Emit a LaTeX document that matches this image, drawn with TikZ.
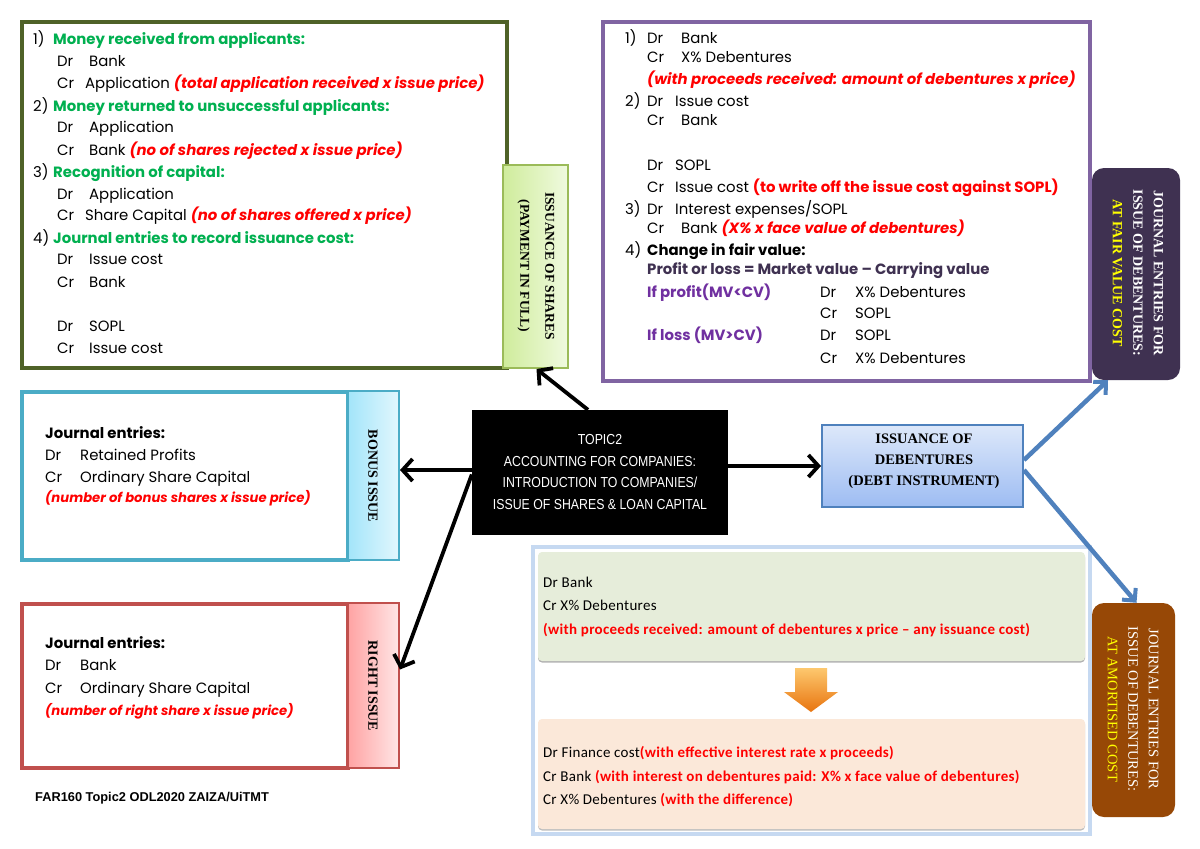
\documentclass[tikz,border=0pt]{standalone}
\usepackage{fontspec}
\usetikzlibrary{arrows.meta,fit,shadows,calc}
\setmainfont{Poppins}
\newfontfamily\gothic{Poppins}
\newfontfamily\calib[LetterSpace=2]{Carlito}
\newfontfamily\serifb{Liberation Serif}
\newfontfamily\condf[FakeStretch=0.85]{Liberation Sans}
\newfontfamily\arialf{Liberation Sans}
\definecolor{hgreen}{HTML}{00B050}
\definecolor{pred}{HTML}{FF0000}
\definecolor{cOlive}{HTML}{4F6228}
\definecolor{cTabG}{HTML}{9BBB59}
\definecolor{cTabGa}{HTML}{CFEC9C}
\definecolor{cTabGb}{HTML}{F0FADF}
\definecolor{cPurp}{HTML}{8064A2}
\definecolor{cDarkP}{HTML}{3F3151}
\definecolor{cViolet}{HTML}{7030A0}
\definecolor{cTeal}{HTML}{4BACC6}
\definecolor{cTealA}{HTML}{A3E5FA}
\definecolor{cTealB}{HTML}{E2F7FD}
\definecolor{cRed}{HTML}{C0504D}
\definecolor{cPinkA}{HTML}{FFA3A3}
\definecolor{cPinkB}{HTML}{FFE6E6}
\definecolor{cBlue}{HTML}{4F81BD}
\definecolor{cBlueA}{HTML}{DDE8FA}
\definecolor{cBlueB}{HTML}{9DBCF2}
\definecolor{cCont}{HTML}{C6D9F1}
\definecolor{cGreenIn}{HTML}{E6EDDA}
\definecolor{cPeach}{HTML}{FBE8D9}
\definecolor{cBrown}{HTML}{974806}
\definecolor{cYellow}{HTML}{FFFF00}
\definecolor{cOrA}{HTML}{FDC86E}
\definecolor{cOrB}{HTML}{E8740F}
\newcounter{tn}
\newcommand\tx[4][]{\stepcounter{tn}\node[anchor=base west,inner sep=0pt,#1] (tx\arabic{tn}) at (#2,#3) {#4};}
\newcommand\rit[1]{{\color{pred}\bfseries\itshape #1}}
\newcommand\rbf[1]{{\color{pred}\bfseries #1}}
\tikzset{
  framebox/.style={inner sep=0pt},
  blackarrow/.style={draw=black, line width=3.8pt, -{Straight Barb[length=10pt,width=22pt,line width=3.8pt]}},
  bluearrow/.style={draw=cBlue, line width=4.5pt, -{Straight Barb[length=9pt,width=18pt,line width=4pt]}},
  tablabel/.style={rotate=-90, align=center, inner sep=0pt, font=\serifb\bfseries\fontsize{13.5}{25}\selectfont},
  calibtext/.style={font=\calib\fontsize{15}{17}\selectfont},
}
\begin{document}
\begin{tikzpicture}[x=1pt,y=-1pt,font=\gothic\fontsize{14.9}{17}\selectfont]
\useasboundingbox (0,0) rectangle (1200,849);
\fill[white] (0,0) rectangle (1200,849);

% ---------- share issue box ----------
\node[framebox, draw=cOlive, line width=4pt, fit={(22,22)(507,368)}] (shbox) {};
\node[framebox, draw=cTabG, line width=2pt, left color=cTabGa, right color=cTabGb, fit={(503,165)(568,368)}] (tabG) {};
\node[tablabel] (tabGt) at (536,266) {ISSUANCE OF SHARES\\(PAYMENT IN FULL)};

\tx{33}{44}{1)}\tx{53}{44}{\color{hgreen}\bfseries Money received from applicants:}
\tx{57}{66}{Dr}\tx{89}{66}{Bank}
\tx{57}{88}{Cr}\tx{85}{88}{Application \rit{(total application received x issue price)}}
\tx{33}{111}{2)}\tx{53}{111}{\color{hgreen}\bfseries Money returned to unsuccessful applicants:}
\tx{57}{132}{Dr}\tx{89}{132}{Application}
\tx{57}{155}{Cr}\tx{89}{155}{Bank \rit{(no of shares rejected x issue price)}}
\tx{33}{177}{3)}\tx{53}{177}{\color{hgreen}\bfseries Recognition of capital:}
\tx{57}{199}{Dr}\tx{89}{199}{Application}
\tx{57}{220}{Cr}\tx{85}{220}{Share Capital \rit{(no of shares offered x price)}}
\tx{33}{243}{4)}\tx{53}{243}{\color{hgreen}\bfseries Journal entries to record issuance cost:}
\tx{57}{264}{Dr}\tx{89}{264}{Issue cost}
\tx{57}{287}{Cr}\tx{89}{287}{Bank}
\tx{57}{331}{Dr}\tx{89}{331}{SOPL}
\tx{57}{353}{Cr}\tx{89}{353}{Issue cost}

% ---------- debentures fair value box ----------
\node[framebox, draw=cPurp, line width=3.5pt, fit={(603,22)(1090,381)}] (fvbox) {};
\node[framebox, fill=cDarkP, rounded corners=12pt, fit={(1092,168)(1180,380)}] (tabFV) {};
\node[tablabel, font=\serifb\bfseries\fontsize{14}{20.5}\selectfont, text=white] (tabFVt) at (1138,273) {JOURNAL ENTRIES FOR\\ISSUE OF DEBENTURES:\\\textcolor{cYellow}{AT FAIR VALUE COST}};

\tx{625}{43}{1)}\tx{647}{43}{Dr}\tx{681}{43}{Bank}
\tx{647}{62}{Cr}\tx{681}{62}{X\% Debentures}
\tx{647}{84}{\rit{(with proceeds received: amount of debentures x price)}}
\tx{625}{106}{2)}\tx{647}{106}{Dr}\tx{675}{106}{Issue cost}
\tx{647}{125}{Cr}\tx{681}{125}{Bank}
\tx{647}{170}{Dr}\tx{675}{170}{SOPL}
\tx{647}{192}{Cr}\tx{675}{192}{Issue cost \rbf{(to write off the issue cost against SOPL)}}
\tx{625}{214}{3)}\tx{647}{214}{Dr}\tx{675}{214}{Interest expenses/SOPL}
\tx{647}{233}{Cr}\tx{681}{233}{Bank \rit{(X\% x face value of debentures)}}
\tx{625}{255}{4)}\tx{647}{255}{\bfseries Change in fair value:}
\tx{647}{274}{\color{cDarkP}\bfseries Profit or loss = Market value – Carrying value}
\tx{647}{297}{\color{cViolet}\bfseries If profit(MV<CV)}\tx{820}{297}{Dr}\tx{855}{297}{X\% Debentures}
\tx{820}{318}{Cr}\tx{855}{318}{SOPL}
\tx{647}{340}{\color{cViolet}\bfseries If loss (MV>CV)}\tx{820}{340}{Dr}\tx{855}{340}{SOPL}
\tx{820}{363}{Cr}\tx{855}{363}{X\% Debentures}

% ---------- bonus issue ----------
\node[framebox, draw=cTeal, line width=3.5pt, fit={(22,392)(348,560)}] (bonbox) {};
\node[framebox, draw=cTeal, line width=2pt, left color=cTealA, right color=cTealB, fit={(348,391)(399,560)}] (tabB) {};
\node[tablabel, font=\serifb\bfseries\fontsize{14}{25}\selectfont] (tabBt) at (373,476) {BONUS ISSUE};
\tx{45}{438}{\bfseries Journal entries:}
\tx{45}{460}{Dr}\tx{80}{460}{Retained Profits}
\tx{45}{482}{Cr}\tx{80}{482}{Ordinary Share Capital}
\tx{45}{502}{\rit{\fontsize{13.2}{15}\selectfont(number of bonus shares x issue price)}}

% ---------- right issue ----------
\node[framebox, draw=cRed, line width=3.5pt, fit={(22,604)(348,768)}] (rtbox) {};
\node[framebox, draw=cRed, line width=2pt, left color=cPinkA, right color=cPinkB, fit={(348,603)(399,768)}] (tabR) {};
\node[tablabel, font=\serifb\bfseries\fontsize{14}{25}\selectfont] (tabRt) at (373,686) {RIGHT ISSUE};
\tx{45}{648}{\bfseries Journal entries:}
\tx{45}{670}{Dr}\tx{80}{670}{Bank}
\tx{45}{693}{Cr}\tx{80}{693}{Ordinary Share Capital}
\tx{45}{715}{\rit{\fontsize{13.2}{15}\selectfont(number of right share x issue price)}}

\tx[font=\arialf\bfseries\fontsize{12.8}{15}\selectfont]{35}{801}{FAR160 Topic2 ODL2020 ZAIZA/UiTMT}

% ---------- central topic ----------
\node[framebox, fill=black, fit={(472,410)(728,535)}] (topic) {};
\node[align=center, text=white, inner sep=0pt, font=\condf\fontsize{14.5}{21.5}\selectfont] (topict) at (600,472) {TOPIC2\\ACCOUNTING FOR COMPANIES:\\INTRODUCTION TO COMPANIES/\\ISSUE OF SHARES \& LOAN CAPITAL};

% ---------- debentures ----------
\node[framebox, draw=cBlue, line width=2pt, top color=cBlueA, bottom color=cBlueB, fit={(822,425)(1023,507)}] (deb) {};
\node[align=center, inner sep=0pt, font=\serifb\bfseries\fontsize{14.5}{21}\selectfont] (debt) at (924,461) {ISSUANCE OF\\DEBENTURES\\(DEBT INSTRUMENT)};

% ---------- amortised cost ----------
\node[framebox, draw=cCont, line width=3.5pt, fit={(533,547)(1090,834)}] (cont) {};
\node[framebox, fill=cGreenIn, rounded corners=4pt, drop shadow={shadow xshift=0pt,shadow yshift=-1.5pt,opacity=0.6}, fit={(538,552)(1085,661)}] (amA) {};
\node[framebox, fill=cPeach, rounded corners=4pt, drop shadow={shadow xshift=0pt,shadow yshift=-1.5pt,opacity=0.5}, fit={(538,719)(1085,829)}] (amB) {};
\shade[top color=cOrA, bottom color=cOrB, draw=none] (795,668) -- (827,668) -- (827,692) -- (838,692) -- (811,712) -- (784,692) -- (795,692) -- cycle;
\tx[calibtext]{543}{587}{Dr Bank}
\tx[calibtext]{543}{610}{Cr X\% Debentures}
\tx[calibtext]{543}{634}{\rbf{(with proceeds received: amount of debentures x price – any issuance cost)}}
\tx[calibtext]{543}{757}{Dr Finance cost\rbf{(with effective interest rate x proceeds)}}
\tx[calibtext]{543}{781}{Cr Bank \rbf{(with interest on debentures paid: X\% x face value of debentures)}}
\tx[calibtext]{543}{804}{Cr X\% Debentures \rbf{(with the difference)}}

\node[framebox, fill=cBrown, rounded corners=12pt, fit={(1092,603)(1175,817)}] (tabAC) {};
\node[tablabel, font=\serifb\fontsize{14.5}{20.5}\selectfont, text=white] (tabACt) at (1133,709) {JOURNAL ENTRIES FOR\\ISSUE OF DEBENTURES:\\\textcolor{cYellow}{AT AMORTISED COST}};

% ---------- connectors ----------
\draw[blackarrow] ([xshift=-12pt]topic.north) -- ([xshift=1pt]tabG.south);
\draw[blackarrow] (topic.west |- 0,470) -- (tabB.east |- 0,470);
\draw[blackarrow] ([yshift=-2pt]topic.west) -- ([yshift=16pt]tabR.east);
\draw[blackarrow] (topic.east |- deb.west) -- (deb.west);
\draw[bluearrow] ([yshift=6pt]deb.east) -- ([xshift=-28pt]tabFV.south);
\draw[bluearrow] ([yshift=-4pt]deb.east) -- ([xshift=3pt]tabAC.north);
\end{tikzpicture}
\end{document}
